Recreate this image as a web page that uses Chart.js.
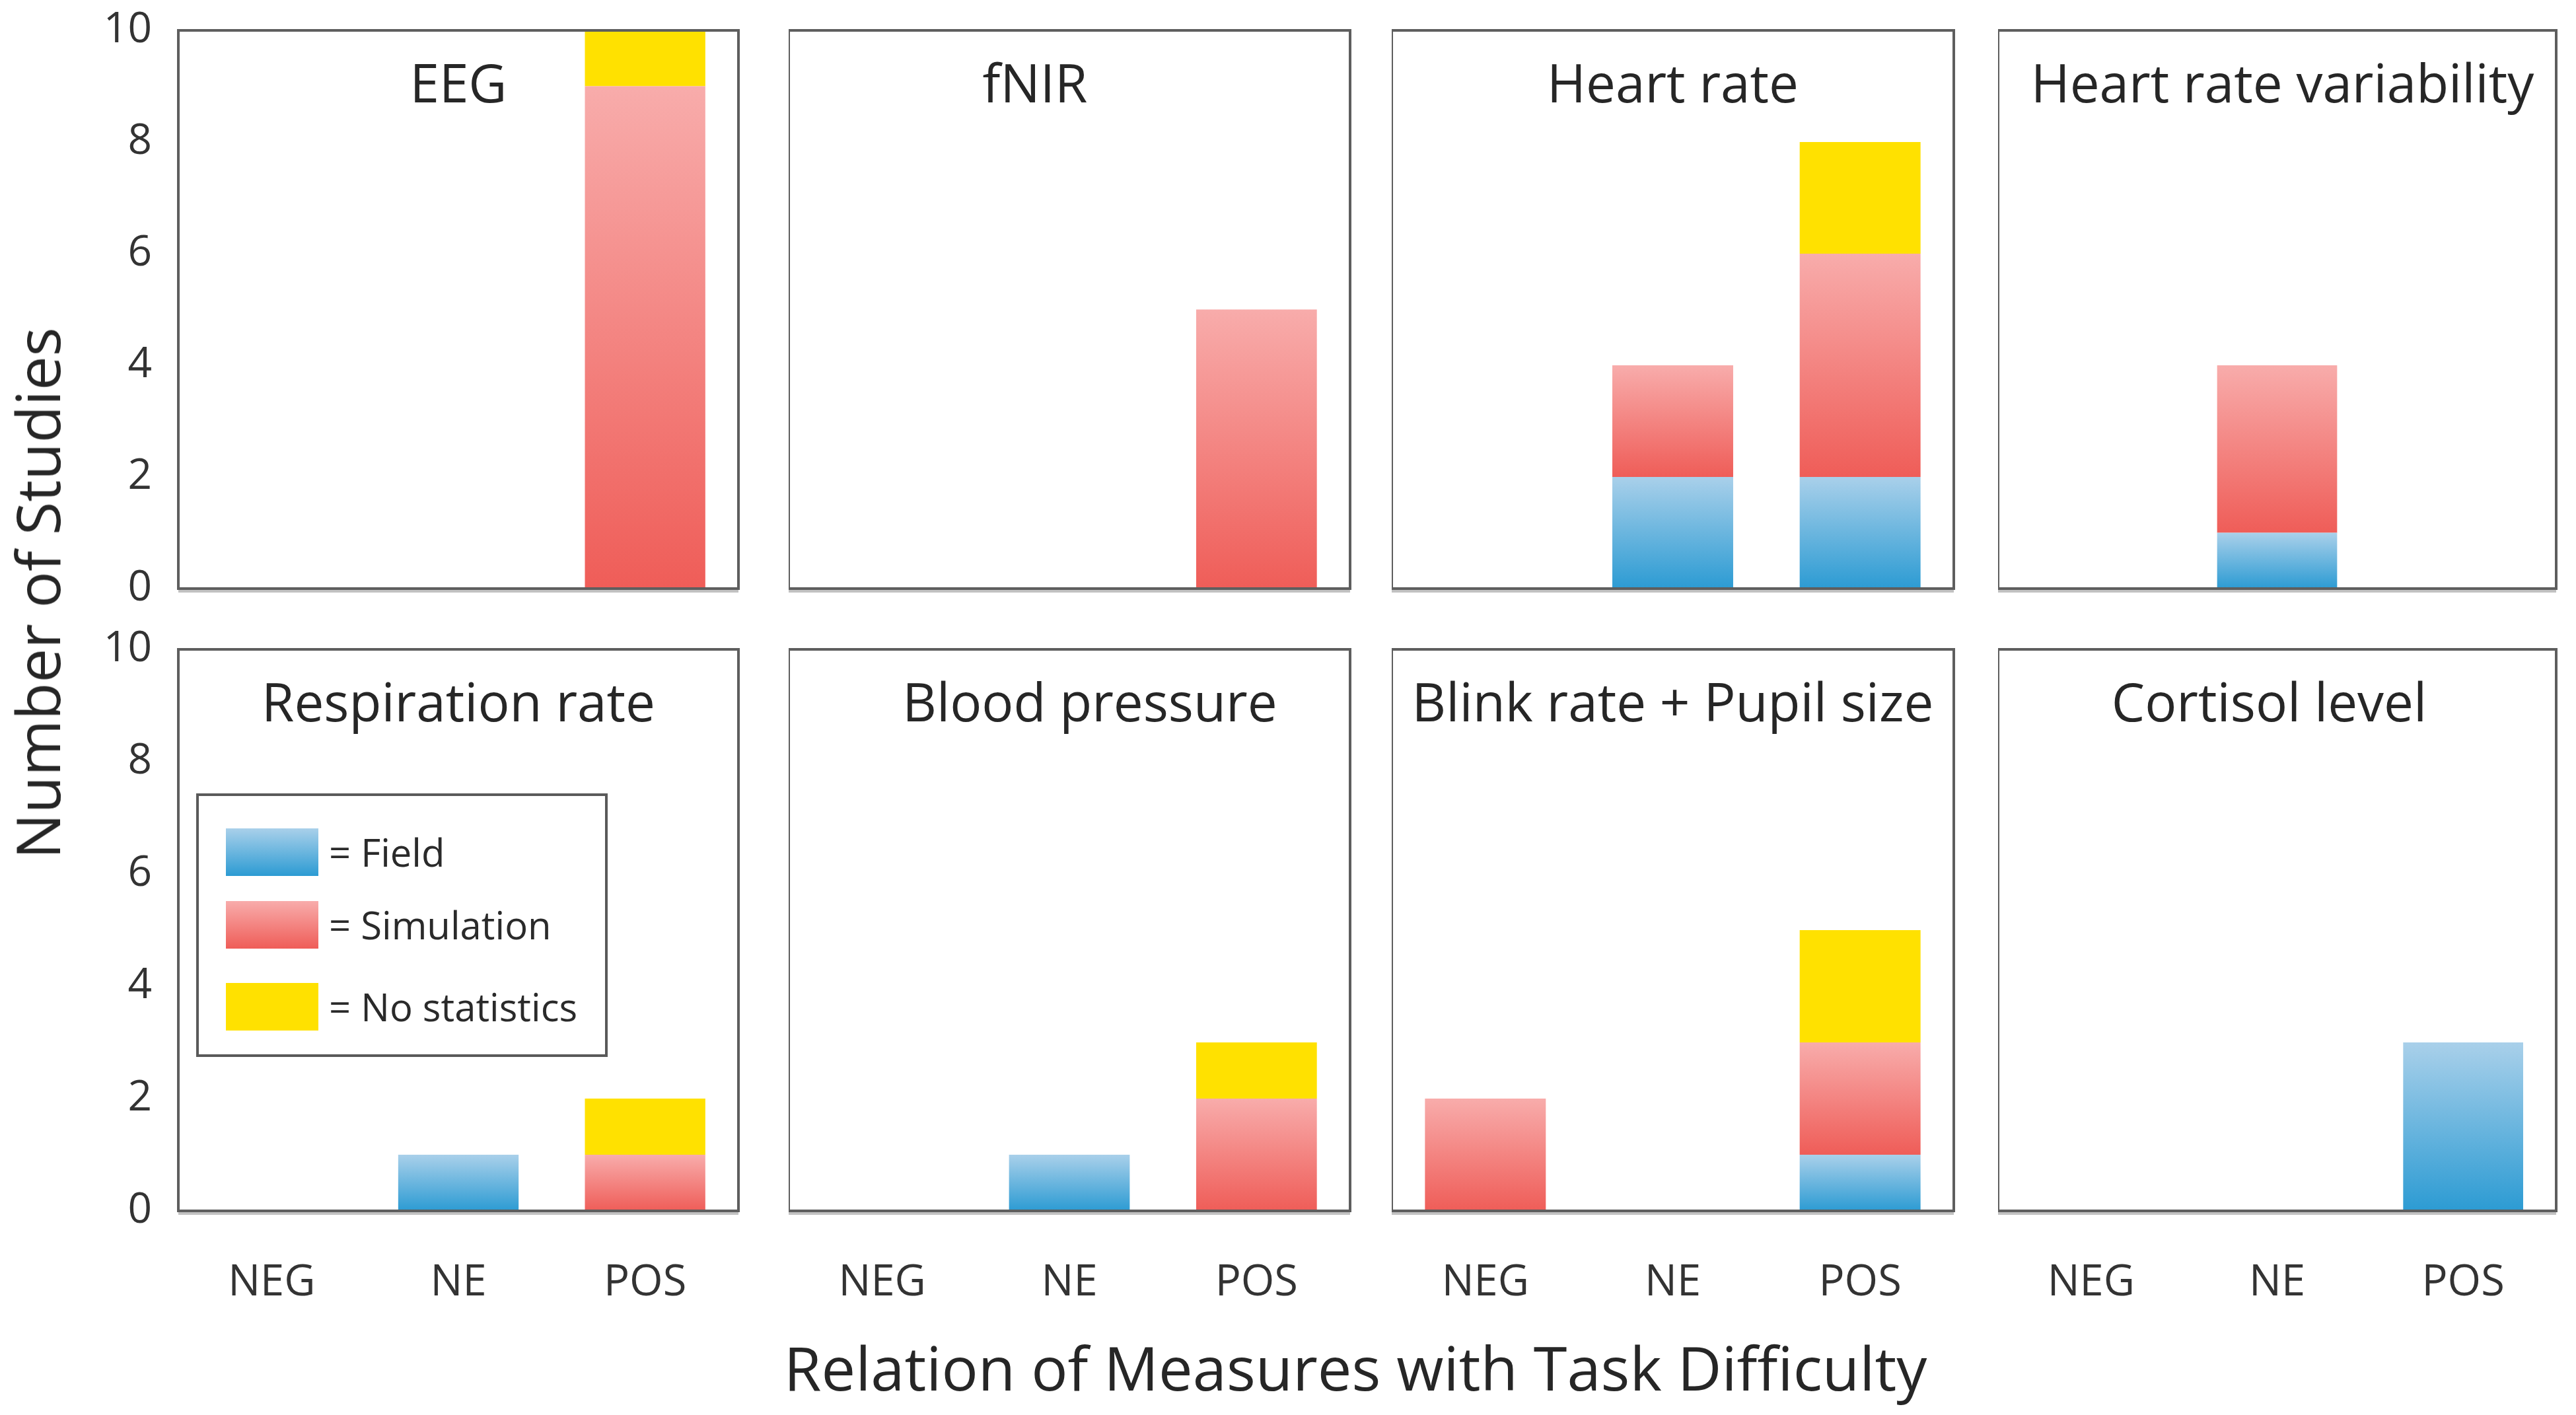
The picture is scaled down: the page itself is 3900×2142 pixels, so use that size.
<!DOCTYPE html>
<html>
<head>
<meta charset="utf-8">
<script src="https://cdn.jsdelivr.net/npm/chart.js@4.4.1/dist/chart.umd.min.js"></script>
<style>
  html, body { margin: 0; padding: 0; background: #ffffff; }
  body { width: 3900px; height: 2142px; position: relative; overflow: hidden; font-family: 'Open Sans', sans-serif; color: #262626; }
  .wrap { position: absolute; }
  .ptitle { position: absolute; font-size: 80px; line-height: 1; white-space: nowrap; transform: translate(-50%, -50%); color: #262626; }
  .axtitle { position: absolute; font-size: 92px; line-height: 1; white-space: nowrap; color: #262626; }
  .legend { position: absolute; border: 4px solid #5a5a5a; box-sizing: border-box; background: #fff; }
  .sw { position: absolute; }
  .ltxt { position: absolute; font-size: 58px; line-height: 1; white-space: nowrap; transform: translateY(-50%); color: #2a2a2a; }
</style>
</head>
<body>
<script>
// ---------------- data ----------------
const categories = ['NEG', 'NE', 'POS'];
const panelTitles = ['EEG', 'fNIR', 'Heart rate', 'Heart rate variability',
                     'Respiration rate', 'Blood pressure', 'Blink rate + Pupil size', 'Cortisol level'];
const seriesNames = ['= Field', '= Simulation', '= No statistics'];
const fieldCounts      = [[0,0,0],[0,0,0],[0,2,2],[0,1,0],[0,1,0],[0,1,0],[0,0,1],[0,0,3]];
const simulationCounts = [[0,0,9],[0,0,5],[0,2,4],[0,3,0],[0,0,1],[0,0,2],[2,0,2],[0,0,0]];
const noStatCounts     = [[0,0,1],[0,0,0],[0,0,2],[0,0,0],[0,0,1],[0,0,1],[0,0,2],[0,0,0]];
const yMin = 0, yMax = 10, yStep = 2;
const yAxisTitle = 'Number of Studies';
const xAxisTitle = 'Relation of Measures with Task Difficulty';

// ---------------- layout / style ----------------
const colX = [[270, 1118], [1194, 2044], [2107, 2958], [3025, 3870]];
const rowY = [[46, 891], [983, 1833]];
const titleShift = [0, -52, 0, 8, 0, 31, 0, -12];
const padTop = 90, padRight = 10, padBottom = 90, xAxisH = 190;
const FONT = "'Open Sans', sans-serif";
const fieldGrad = ['#a9d0ea', '#2c9bd3'];
const simGrad = ['#f8acab', '#ef5d58'];
const yellow = '#ffe100';

function segGradient(colors, dsIndex) {
  return (ctx) => {
    const chart = ctx.chart;
    if (ctx.type !== 'data' || !chart.chartArea || !chart.scales.y) return colors[1];
    const i = ctx.dataIndex;
    let start = 0;
    for (let d = 0; d < dsIndex; d++) start += chart.data.datasets[d].data[i] || 0;
    const end = start + (chart.data.datasets[dsIndex].data[i] || 0);
    const ys = chart.scales.y;
    const top = ys.getPixelForValue(end), bot = ys.getPixelForValue(start);
    if (!isFinite(top) || !isFinite(bot) || top === bot) return colors[1];
    const g = chart.ctx.createLinearGradient(0, top, 0, bot);
    g.addColorStop(0, colors[0]);
    g.addColorStop(1, colors[1]);
    return g;
  };
}

const framePlugin = {
  id: 'frame',
  afterDraw(chart) {
    const a = chart.chartArea, c = chart.ctx;
    c.save();
    c.strokeStyle = '#5e5e5e';
    c.lineWidth = 4;
    c.strokeRect(a.left, a.top, a.right - a.left, a.bottom - a.top);
    c.strokeStyle = 'rgba(120,120,120,0.45)';
    c.lineWidth = 4;
    c.beginPath();
    c.moveTo(a.left, a.bottom + 4);
    c.lineTo(a.right, a.bottom + 4);
    c.stroke();
    c.restore();
  }
};

for (let p = 0; p < 8; p++) {
  const r = Math.floor(p / 4), col = p % 4;
  const [L, R] = colX[col];
  const [T, B] = rowY[r];
  const yW = col === 0 ? L : 0;
  const left = L - yW;
  const top = T - padTop;
  const w = (R - L) + yW + padRight;
  const h = (B - T) + padTop + (r === 1 ? xAxisH : padBottom);

  const wrap = document.createElement('div');
  wrap.className = 'wrap';
  wrap.style.left = left + 'px';
  wrap.style.top = top + 'px';
  wrap.style.width = w + 'px';
  wrap.style.height = h + 'px';
  const cv = document.createElement('canvas');
  cv.width = w; cv.height = h;
  cv.style.width = w + 'px'; cv.style.height = h + 'px';
  wrap.appendChild(cv);
  document.body.appendChild(wrap);

  new Chart(cv, {
    type: 'bar',
    data: {
      labels: categories,
      datasets: [
        { label: seriesNames[0], data: fieldCounts[p], backgroundColor: segGradient(fieldGrad, 0) },
        { label: seriesNames[1], data: simulationCounts[p], backgroundColor: segGradient(simGrad, 1) },
        { label: seriesNames[2], data: noStatCounts[p], backgroundColor: yellow }
      ]
    },
    options: {
      responsive: false,
      animation: false,
      devicePixelRatio: 1,
      layout: { padding: { top: padTop, right: padRight, bottom: r === 0 ? padBottom : 0, left: 0 } },
      datasets: { bar: { barPercentage: 0.645, categoryPercentage: 1.0, borderWidth: 0 } },
      plugins: { legend: { display: false }, tooltip: { enabled: false }, title: { display: false } },
      scales: {
        x: {
          stacked: true,
          display: r === 1,
          grid: { display: false, drawTicks: false },
          border: { display: false },
          ticks: { font: { family: FONT, size: 65 }, color: '#333', padding: 70, maxRotation: 0 },
          afterFit: (s) => { s.height = (r === 1) ? xAxisH : 0; }
        },
        y: {
          stacked: true,
          min: yMin, max: yMax,
          display: col === 0,
          grid: { display: false, drawTicks: false },
          border: { display: false },
          ticks: { stepSize: yStep, font: { family: FONT, size: 64 }, color: '#333', padding: 40 },
          afterFit: (s) => { s.width = yW; }
        }
      }
    },
    plugins: [framePlugin]
  });

  const t = document.createElement('div');
  t.className = 'ptitle';
  t.textContent = panelTitles[p];
  t.style.left = ((L + R) / 2 + titleShift[p]) + 'px';
  t.style.top = (T + 78) + 'px';
  document.body.appendChild(t);
}

// axis titles
const yt = document.createElement('div');
yt.className = 'axtitle';
yt.textContent = yAxisTitle;
yt.style.left = '56px';
yt.style.top = '898px';
yt.style.transform = 'translate(-50%, -50%) rotate(-90deg)';
document.body.appendChild(yt);

const xt = document.createElement('div');
xt.className = 'axtitle';
xt.textContent = xAxisTitle;
xt.style.left = '2052px';
xt.style.top = '2070px';
xt.style.transform = 'translate(-50%, -50%)';
document.body.appendChild(xt);

// legend inside the "Respiration rate" panel
const lg = document.createElement('div');
lg.className = 'legend';
lg.style.left = '297px'; lg.style.top = '1201px';
lg.style.width = '623px'; lg.style.height = '399px';
document.body.appendChild(lg);
const swTops = [1254, 1364, 1488];
const swFills = [
  `linear-gradient(to bottom, ${fieldGrad[0]}, ${fieldGrad[1]})`,
  `linear-gradient(to bottom, ${simGrad[0]}, ${simGrad[1]})`,
  yellow
];
for (let i = 0; i < 3; i++) {
  const s = document.createElement('div');
  s.className = 'sw';
  s.style.left = '342px'; s.style.top = swTops[i] + 'px';
  s.style.width = '140px'; s.style.height = '72px';
  s.style.background = swFills[i];
  document.body.appendChild(s);
  const tx = document.createElement('div');
  tx.className = 'ltxt';
  tx.textContent = seriesNames[i];
  tx.style.left = '498px'; tx.style.top = (swTops[i] + 36) + 'px';
  document.body.appendChild(tx);
}
</script>
</body>
</html>
